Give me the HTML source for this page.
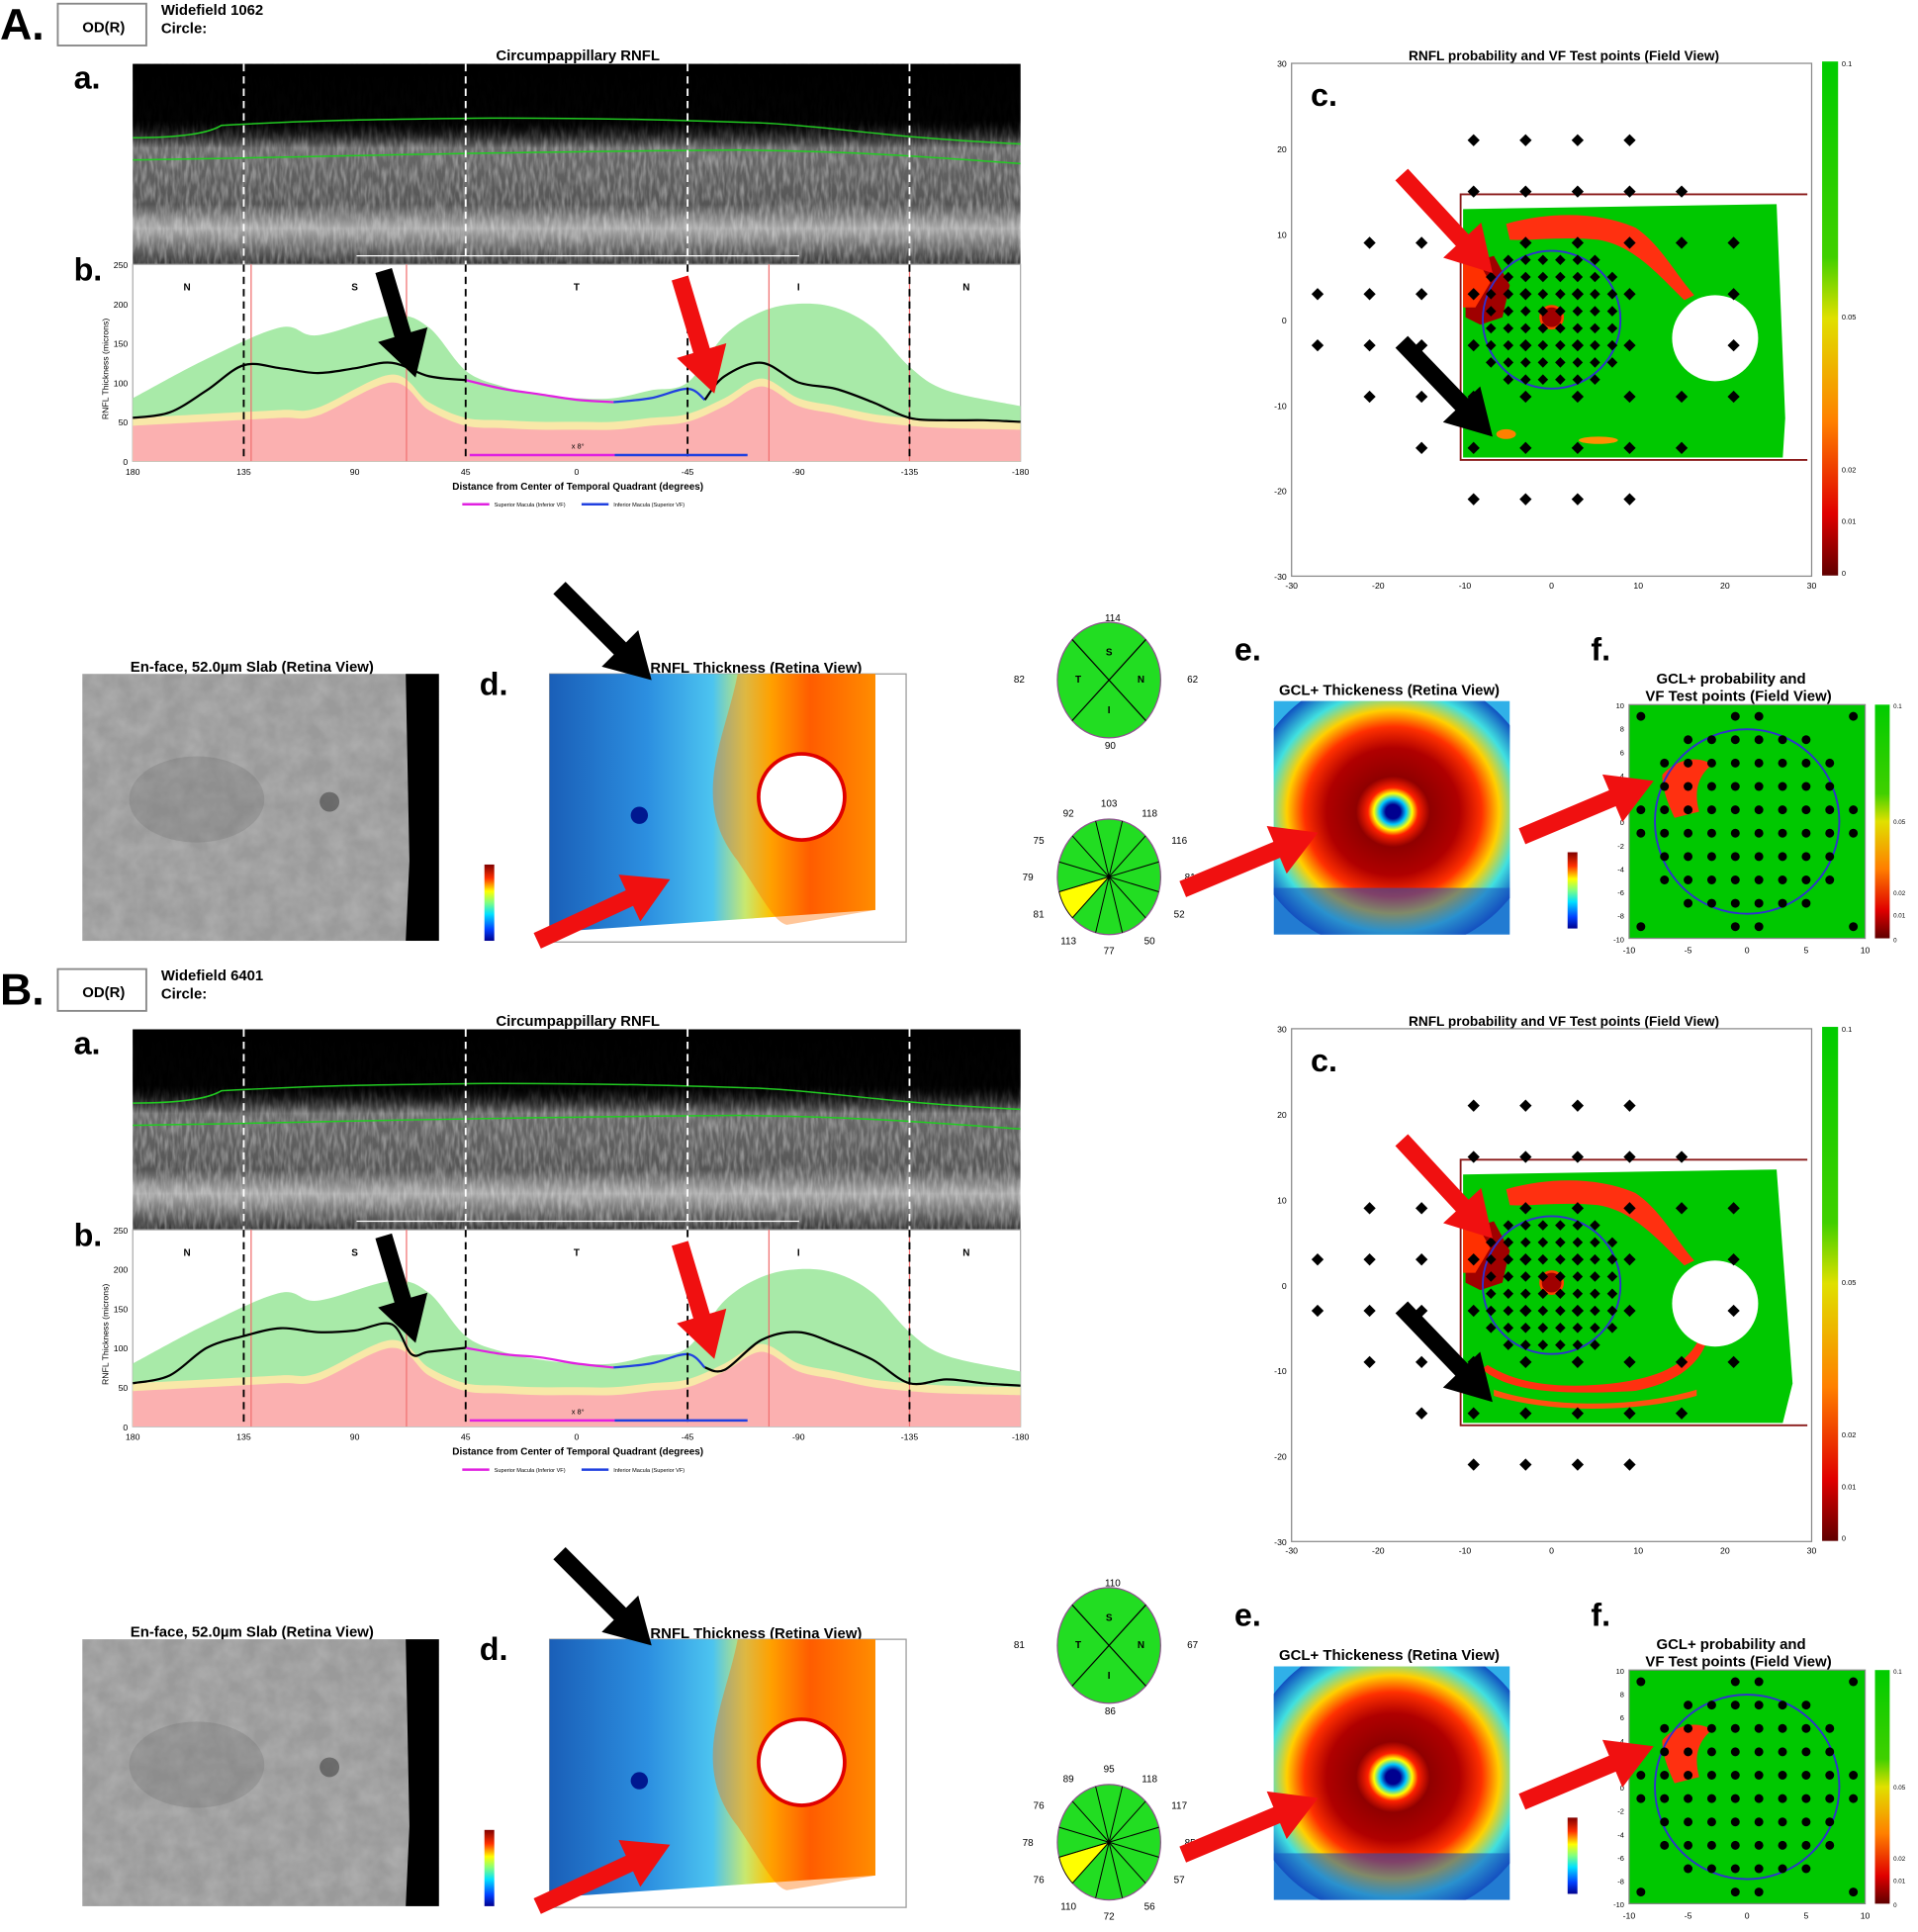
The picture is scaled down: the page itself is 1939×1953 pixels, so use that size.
<!DOCTYPE html>
<html><head><meta charset="utf-8"><style>
html,body{margin:0;padding:0;background:#fff;}
svg{display:block;font-family:"Liberation Sans",sans-serif;}
</style></head><body>
<svg id="fig" width="1939" height="1953" viewBox="0 0 1560 1571" preserveAspectRatio="none" xmlns="http://www.w3.org/2000/svg">
<defs>
<filter id="noise" x="0" y="0" width="100%" height="100%"><feTurbulence type="fractalNoise" baseFrequency="0.35 0.08" numOctaves="2" seed="3"/><feColorMatrix type="matrix" values="0 0 0 0 1 0 0 0 0 1 0 0 0 0 1 0 0 0 1.4 -0.5"/></filter>
<filter id="noise2" x="0" y="0" width="100%" height="100%"><feTurbulence type="fractalNoise" baseFrequency="0.06" numOctaves="3" seed="7"/><feColorMatrix type="matrix" values="0 0 0 0 0.6 0 0 0 0 0.6 0 0 0 0 0.6 0 0 0 1.2 -0.3"/></filter>
<linearGradient id="octg" x1="0" y1="0" x2="0" y2="1"><stop offset="0" stop-color="#000"/><stop offset="0.3" stop-color="#050505"/><stop offset="0.42" stop-color="#6a6a6a"/><stop offset="0.7" stop-color="#555"/><stop offset="0.82" stop-color="#aaa"/><stop offset="1" stop-color="#333"/></linearGradient>
<linearGradient id="octmask" x1="0" y1="0" x2="0" y2="1"><stop offset="0" stop-color="#000" stop-opacity="1"/><stop offset="0.28" stop-color="#000" stop-opacity="0.95"/><stop offset="0.42" stop-color="#000" stop-opacity="0"/><stop offset="1" stop-color="#000" stop-opacity="0"/></linearGradient>
<linearGradient id="jet" x1="0" y1="1" x2="0" y2="0"><stop offset="0" stop-color="#00008f"/><stop offset="0.15" stop-color="#0040ff"/><stop offset="0.35" stop-color="#00e0ff"/><stop offset="0.5" stop-color="#80ff80"/><stop offset="0.65" stop-color="#ffff00"/><stop offset="0.82" stop-color="#ff3000"/><stop offset="1" stop-color="#800000"/></linearGradient>
<linearGradient id="pcb" x1="0" y1="1" x2="0" y2="0"><stop offset="0" stop-color="#600000"/><stop offset="0.12" stop-color="#e00000"/><stop offset="0.3" stop-color="#ff8000"/><stop offset="0.5" stop-color="#e0e000"/><stop offset="0.62" stop-color="#40d000"/><stop offset="1" stop-color="#00cc00"/></linearGradient>
<linearGradient id="rnflg" x1="0" y1="0" x2="1" y2="0"><stop offset="0" stop-color="#1a5fb8"/><stop offset="0.3" stop-color="#2c8fe0"/><stop offset="0.5" stop-color="#4cc4f0"/><stop offset="0.6" stop-color="#c8e870"/><stop offset="0.68" stop-color="#ffc000"/><stop offset="0.8" stop-color="#ff5000"/><stop offset="1" stop-color="#ffa000"/></linearGradient>
<radialGradient id="gclg" cx="0.5" cy="0.5" r="0.5"><stop offset="0.05" stop-color="#000090"/><stop offset="0.09" stop-color="#00c8ff"/><stop offset="0.13" stop-color="#ffff00"/><stop offset="0.17" stop-color="#ff2000"/><stop offset="0.25" stop-color="#900000"/><stop offset="0.45" stop-color="#b00000"/><stop offset="0.6" stop-color="#ff3000"/><stop offset="0.72" stop-color="#ffd000"/><stop offset="0.85" stop-color="#40e0e0"/><stop offset="1" stop-color="#1050c0"/></radialGradient>
<clipPath id="gclclip"><rect x="1036" y="570" width="192" height="190"/></clipPath>
</defs>
</svg>
<script>
// ---- chart data (panel A and B RNFL thickness profiles) ----
const degA = [180,165,150,135,120,105,90,75,60,45,30,15,0,-15,-30,-45,-52,-60,-75,-90,-105,-120,-135,-150,-165,-180];
const valA = [55,62,90,122,118,112,118,125,108,103,92,85,78,75,80,92,78,108,125,100,92,75,55,52,52,50];
const degB = [180,165,150,135,120,105,90,75,67,60,45,30,15,0,-15,-30,-45,-52,-60,-75,-90,-105,-120,-135,-150,-165,-180];
const valB = [55,65,100,115,125,120,122,130,92,95,100,92,88,80,75,80,92,75,72,110,120,105,85,55,60,55,52];
const normDeg = [180,150,120,105,75,60,45,30,15,0,-15,-30,-45,-60,-75,-90,-105,-120,-135,-150,-180];
const normHi = [80,130,170,160,185,170,115,95,85,80,80,90,100,160,190,200,195,170,120,90,70];
const normLo = [45,50,55,58,100,65,45,42,40,40,40,45,50,70,95,70,60,50,45,42,40];
const yTicks = [0,50,100,150,200,250];
const xTicks = [180,135,90,45,0,-45,-90,-135,-180];
const fieldTicks = [-30,-20,-10,0,10,20,30];
const sectorsA = {top:114,left:82,right:62,bottom:90,clock:[103,118,116,81,52,50,77,113,81,79,75,92]};
const sectorsB = {top:110,left:81,right:67,bottom:86,clock:[95,118,117,85,57,56,72,110,76,78,76,89]};

const NS='http://www.w3.org/2000/svg';
const svg=document.getElementById('fig');
function mk(tag,attrs,name,parent,text){
  const el=document.createElementNS(NS,tag);
  for(const k in attrs) el.setAttribute(k,attrs[k]);
  
  
  if(text!==undefined) el.textContent=text;
  (parent||svg).appendChild(el);
  return el;
}
function txt(x,y,s,size,name,g,extra){
  const a=Object.assign({x:x,y:y,'font-size':size,fill:'#000'},extra||{});
  return mk('text',a,name,g,s);
}
function arrow(x1,y1,x2,y2,col,w,g,name){
  const dx=x2-x1,dy=y2-y1,L=Math.hypot(dx,dy),ux=dx/L,uy=dy/L,px=-uy,py=ux;
  const hl=w*2.6,hw=w*1.5;
  const bx=x2-ux*hl,by=y2-uy*hl;
  const pts=[[x1+px*w/2,y1+py*w/2],[bx+px*w/2,by+py*w/2],[bx+px*hw,by+py*hw],[x2,y2],[bx-px*hw,by-py*hw],[bx-px*w/2,by-py*w/2],[x1-px*w/2,y1-py*w/2]];
  mk('polygon',{points:pts.map(p=>p.join(',')).join(' '),fill:col},name,g);
}
function smooth(pts){
  let s='M'+pts[0][0]+','+pts[0][1];
  for(let i=0;i<pts.length-1;i++){
    const p0=pts[Math.max(0,i-1)],p1=pts[i],p2=pts[i+1],p3=pts[Math.min(pts.length-1,i+2)];
    const c1=[p1[0]+(p2[0]-p0[0])/6,p1[1]+(p2[1]-p0[1])/6],c2=[p2[0]-(p3[0]-p1[0])/6,p2[1]-(p3[1]-p1[1])/6];
    s+=' C'+c1.join(',')+' '+c2.join(',')+' '+p2.join(',');
  }
  return s;
}
function panel(dy,letter,wf,deg,val,sec,variant){
  const g=mk('g',{transform:'translate(0,'+dy+')'},'panel-'+letter,svg);
  txt(0,32,letter+'.',36,'panel-label',g,{'font-weight':'bold'});
  mk('rect',{x:47,y:3,width:72,height:34,fill:'#fff',stroke:'#888','stroke-width':1.5},'eye-box',g);
  txt(67,26,'OD(R)',12,'eye-label',g,{'font-weight':'bold'});
  txt(131,12,'Widefield '+wf,12,'scan-id',g,{'font-weight':'bold'});
  txt(131,27,'Circle:',12,'scan-type',g,{'font-weight':'bold'});
  txt(60,72,'a.',26,'sub-label-a',g,{'font-weight':'bold'});
  txt(470,49,'Circumpappillary RNFL',12,'oct-title',g,{'font-weight':'bold','text-anchor':'middle'});
  // OCT b-scan
  mk('rect',{x:108,y:52,width:722,height:163,fill:'url(#octg)'},'oct-bscan',g);
  mk('rect',{x:108,y:52,width:722,height:163,fill:'#000',filter:'url(#noise)',opacity:0.5},'oct-speckle',g);
  mk('rect',{x:108,y:52,width:722,height:163,fill:'url(#octmask)'},'oct-vitreous',g);
  mk('path',{d:'M108,112 C150,112 170,108 180,102 C250,98 300,97 400,96 C500,96 560,98 620,100 C680,103 720,112 830,117',fill:'none',stroke:'#2c2','stroke-width':1.2},'ilm-boundary',g);
  mk('path',{d:'M108,130 C250,128 350,124 600,122 C700,123 760,128 830,133',fill:'none',stroke:'#2c2','stroke-width':1.2},'rnfl-boundary',g);
  mk('line',{x1:290,y1:208,x2:650,y2:208,stroke:'#fff','stroke-width':1},'scan-length-marker',g);
  txt(60,228,'b.',26,'sub-label-b',g,{'font-weight':'bold'});
  // chart b
  const X=d=>108+(180-d)/360*722, Y=v=>375-v*0.64;
  mk('rect',{x:108,y:215,width:722,height:160,fill:'#fff',stroke:'#aaa'},'chart-area',g);
  const hiPts=normDeg.map((d,i)=>[X(d),Y(normHi[i])]);
  mk('path',{d:smooth(hiPts)+' L'+X(-180)+',375 L'+X(180)+',375Z',fill:'#a8eaa8'},'normal-band',g);
  const yePts=normDeg.map((d,i)=>[X(d),Y(normLo[i]+10)]);
  mk('path',{d:smooth(yePts)+' L'+X(-180)+',375 L'+X(180)+',375Z',fill:'#f8e8a8'},'borderline-band',g);
  const pkPts=normDeg.map((d,i)=>[X(d),Y(normLo[i])]);
  mk('path',{d:smooth(pkPts)+' L'+X(-180)+',375 L'+X(180)+',375Z',fill:'#fbb0b0'},'abnormal-band',g);
  [132,69,-78,-135].forEach(d=>mk('line',{x1:X(d),y1:215,x2:X(d),y2:375,stroke:'#f07070','stroke-width':1},'sector-line',g));
  const seg=(filter,col,name)=>{
    const pts=[];deg.forEach((d,i)=>{if(filter(d)) pts.push([X(d),Y(val[i])]);});
    mk('path',{d:smooth(pts),fill:'none',stroke:col,'stroke-width':1.8,'stroke-linejoin':'round'},name,g);
  };
  seg(d=>d>=45,'#000','thickness-line-left');
  seg(d=>d<=45&&d>=-15,'#e020e0','thickness-superior-macula');
  seg(d=>d<=-15&&d>=-52,'#2040e0','thickness-inferior-macula');
  seg(d=>d<=-52,'#000','thickness-line-right');
  [135,45,-45,-135].forEach(d=>mk('line',{x1:X(d),y1:215,x2:X(d),y2:375,stroke:'#000','stroke-width':1.5,'stroke-dasharray':'6,4'},'quadrant-divider',g));
  [135,45,-45,-135].forEach(d=>mk('line',{x1:X(d),y1:52,x2:X(d),y2:215,stroke:'#fff','stroke-width':1.5,'stroke-dasharray':'6,4'},'quadrant-divider-oct',g));
  [['N',180-22],['S',90],['T',0],['I',-90],['N',-158]].forEach(q=>txt(X(q[1]),236,q[0],8,'quadrant-letter',g,{'font-weight':'bold','text-anchor':'middle'}));
  yTicks.forEach(v=>txt(104,Y(v)+3,String(v),7,'y-tick-label',g,{'text-anchor':'end'}));
  xTicks.forEach(d=>txt(X(d),386,String(d),7,'x-tick-label',g,{'text-anchor':'middle'}));
  txt(88,300,'RNFL Thickness (microns)',7,'y-axis-title',g,{'text-anchor':'middle',transform:'rotate(-90 88 300)'});
  txt(470,398,'Distance from Center of Temporal Quadrant (degrees)',8,'x-axis-title',g,{'font-weight':'bold','text-anchor':'middle'});
  mk('line',{x1:382,y1:370,x2:500,y2:370,stroke:'#e020e0','stroke-width':2},'range-marker-magenta',g);
  mk('line',{x1:500,y1:370,x2:608,y2:370,stroke:'#2040e0','stroke-width':2},'range-marker-blue',g);
  txt(470,365,'x 8°',6,'range-label',g,{'text-anchor':'middle'});
  mk('line',{x1:376,y1:410,x2:398,y2:410,stroke:'#e020e0','stroke-width':2},'legend-swatch-sup',g);
  txt(402,412,'Superior Macula (Inferior VF)',4.5,'legend-entry-sup',g);
  mk('line',{x1:473,y1:410,x2:495,y2:410,stroke:'#2040e0','stroke-width':2},'legend-swatch-inf',g);
  txt(499,412,'Inferior Macula (Superior VF)',4.5,'legend-entry-inf',g);
  arrow(312,220,338,307,'#000',14,g,'black-arrow-b');
  arrow(553,226,581,320,'#f01010',14,g,'red-arrow-b');
  // ---- panel c ----
  const FX=v=>1262+v*7.05, FY=v=>260-v*6.95;
  txt(1272,49,'RNFL probability and VF Test points (Field View)',11,'field-title',g,{'font-weight':'bold','text-anchor':'middle'});
  mk('rect',{x:FX(-30),y:FY(30),width:FX(30)-FX(-30),height:FY(-30)-FY(30),fill:'#fff',stroke:'#888'},'field-plot',g);
  fieldTicks.forEach(t=>{txt(FX(-30)-4,FY(t)+3,String(t),7,'field-y-tick',g,{'text-anchor':'end'});txt(FX(t),FY(-30)+10,String(t),7,'field-x-tick',g,{'text-anchor':'middle'});});
  txt(1066,86,'c.',26,'sub-label-c',g,{'font-weight':'bold'});
  mk('polyline',{points:[[1470,158],[1188,158],[1188,374],[1470,374]].map(p=>p.join(',')).join(' '),fill:'none',stroke:'#8a1a1a','stroke-width':1.5},'scan-boundary',g);
  const right=variant?1458:1452;
  mk('polygon',{points:'1190,170 1445,166 '+right+',340 1450,372 1190,372',fill:'#00c800'},'probability-map',g);
  mk('path',{d:'M1225,182 C1260,172 1300,172 1330,185 C1350,198 1362,222 1378,240 L1370,244 C1350,225 1330,200 1300,195 C1270,192 1245,196 1228,195Z',fill:'#ff3010'},'defect-superior-arc',g);
  mk('path',{d:'M1192,215 L1215,208 L1228,232 L1222,258 L1204,264 L1192,258Z',fill:'#a00000'},'defect-temporal',g);
  mk('path',{d:'M1190,212 L1200,208 L1212,230 L1200,250 L1190,250Z',fill:'#ff3000'},'defect-temporal-edge',g);
  if(variant){
    mk('path',{d:'M1205,328 C1225,345 1260,350 1330,346 C1370,338 1385,320 1390,300 L1384,298 C1375,328 1340,338 1300,341 C1260,344 1230,338 1210,325Z',fill:'#ff3010'},'defect-inferior-arc',g);
    mk('path',{d:'M1215,345 C1260,360 1330,360 1380,345 L1380,350 C1330,364 1260,364 1215,350Z',fill:'#ff5010'},'defect-inferior-band',g);
  } else {
    mk('ellipse',{cx:1225,cy:353,rx:8,ry:4,fill:'#ff8000'},'defect-inferior-spot',g);
    mk('ellipse',{cx:1300,cy:358,rx:16,ry:3,fill:'#ff9000'},'defect-inferior-spot2',g);
  }
  mk('circle',{cx:1262,cy:258,r:9,fill:'#a00000',stroke:'#ff4000','stroke-width':2},'fovea-spot',g);
  mk('circle',{cx:1262,cy:260,r:56,fill:'none',stroke:'#3030d0','stroke-width':1.5},'macula-circle',g);
  mk('circle',{cx:1395,cy:275,r:35,fill:'#fff'},'optic-disc',g);
  const rows={21:[-9,-3,3,9],15:[-15,-9,-3,3,9,15],9:[-21,-15,-9,-3,3,9,15,21],3:[-27,-21,-15,-9,-3,3,9,21],'-3':[-27,-21,-15,-9,-3,3,9,21],'-9':[-21,-15,-9,-3,3,9,15,21],'-15':[-15,-9,-3,3,9,15],'-21':[-9,-3,3,9]};
  for(const y in rows) rows[y].forEach(x=>{if(!(x===15&&Math.abs(+y)===3)) mk('rect',{x:FX(x)-3.5,y:FY(+y)-3.5,width:7,height:7,transform:'rotate(45 '+FX(x)+' '+FY(+y)+')',fill:'#000'},'vf-test-point',g);});
  for(let yy=-9;yy<=9;yy+=2) for(let xx=-9;xx<=9;xx+=2){ if(xx*xx+yy*yy<=81) mk('rect',{x:FX(xx)-3,y:FY(yy)-3,width:6,height:6,transform:'rotate(45 '+FX(xx)+' '+FY(yy)+')',fill:'#000'},'vf-10-2-point',g);}
  mk('rect',{x:1482,y:50,width:13,height:418,fill:'url(#pcb)'},'probability-colorbar',g);
  [['0.1',54],['0.05',260],['0.02',384],['0.01',426],['0',468]].forEach(t=>txt(1498,t[1],t[0],6,'colorbar-tick',g));
  arrow(1140,142,1214,222,'#f01010',14,g,'red-arrow-c');
  arrow(1140,278,1214,355,'#000',14,g,'black-arrow-c');
  // ---- enface ----
  txt(205,546,'En-face, 52.0µm Slab (Retina View)',12,'enface-title',g,{'font-weight':'bold','text-anchor':'middle'});
  mk('rect',{x:67,y:548,width:290,height:217,fill:'#9a9a9a'},'enface-image',g);
  mk('rect',{x:67,y:548,width:290,height:217,fill:'#000',filter:'url(#noise2)',opacity:0.5},'enface-texture',g);
  mk('polygon',{points:'330,548 357,548 357,765 330,765 333,700',fill:'#000'},'enface-edge',g);
  mk('ellipse',{cx:160,cy:650,rx:55,ry:35,fill:'#666',opacity:0.25},'enface-macula',g);
  mk('circle',{cx:268,cy:652,r:8,fill:'#333',opacity:0.5},'enface-disc',g);
  // ---- d ----
  txt(390,565,'d.',26,'sub-label-d',g,{'font-weight':'bold'});
  txt(615,547,'RNFL Thickness (Retina View)',12,'rnfl-map-title',g,{'font-weight':'bold','text-anchor':'middle'});
  mk('rect',{x:447,y:548,width:290,height:218,fill:'#fff',stroke:'#999'},'rnfl-map-frame',g);
  mk('polygon',{points:'447,548 712,548 712,740 447,758',fill:'url(#rnflg)'},'rnfl-thickness-map',g);
  mk('path',{d:'M600,548 C590,600 560,650 600,700 C620,730 630,750 640,752 L712,740 L712,548Z',fill:'#ff7000',opacity:0.4},'rnfl-bundles',g);
  mk('ellipse',{cx:520,cy:663,rx:7,ry:7,fill:'#001890'},'rnfl-fovea',g);
  mk('circle',{cx:652,cy:648,r:35,fill:'#fff',stroke:'#e00000','stroke-width':3},'rnfl-disc',g);
  mk('rect',{x:394,y:703,width:8,height:62,fill:'url(#jet)'},'rnfl-colorbar',g);
  arrow(455,478,530,553,'#000',14,g,'black-arrow-d');
  arrow(437,765,545,715,'#f01010',14,g,'red-arrow-d');
  // ---- sector circles ----
  mk('ellipse',{cx:902,cy:553,rx:42,ry:47,fill:'#22dd22',stroke:'#905090'},'quadrant-circle',g);
  mk('line',{x1:872,y1:520,x2:932,y2:586,stroke:'#000'},'quadrant-line',g);
  mk('line',{x1:932,y1:520,x2:872,y2:586,stroke:'#000'},'quadrant-line',g);
  [['S',902,533],['T',877,555],['N',928,555],['I',902,580]].forEach(s=>txt(s[1],s[2],s[0],8,'quadrant-letter',g,{'font-weight':'bold','text-anchor':'middle'}));
  txt(905,505,String(sec.top),8,'quadrant-value',g,{'text-anchor':'middle'});
  txt(829,555,String(sec.left),8,'quadrant-value',g,{'text-anchor':'middle'});
  txt(970,555,String(sec.right),8,'quadrant-value',g,{'text-anchor':'middle'});
  txt(903,609,String(sec.bottom),8,'quadrant-value',g,{'text-anchor':'middle'});
  const cx=902,cy=713,rx=42,ry=47;
  mk('ellipse',{cx:cx,cy:cy,rx:rx,ry:ry,fill:'#22dd22',stroke:'#905090'},'clock-circle',g);
  const a1=(195)*Math.PI/180,a2=(225)*Math.PI/180;
  mk('path',{d:'M'+cx+','+cy+' L'+(cx+rx*Math.cos(a1))+','+(cy-ry*Math.sin(a1))+' A'+rx+','+ry+' 0 0 0 '+(cx+rx*Math.cos(a2))+','+(cy-ry*Math.sin(a2))+'Z',fill:'#ffff00',stroke:'#000','stroke-width':0.6},'clock-sector-borderline',g);
  for(let k=0;k<12;k++){const a=(15+30*k)*Math.PI/180;mk('line',{x1:cx,y1:cy,x2:cx+rx*Math.cos(a),y2:cy-ry*Math.sin(a),stroke:'#000','stroke-width':0.8},'clock-spoke',g);}
  sec.clock.forEach((v,k)=>{const a=(90-30*k)*Math.PI/180;txt(cx+66*Math.cos(a),cy-60*Math.sin(a)+3,String(v),8,'clock-value',g,{'text-anchor':'middle'});});
  // ---- e ----
  txt(1004,537,'e.',26,'sub-label-e',g,{'font-weight':'bold'});
  txt(1130,565,'GCL+ Thickeness (Retina View)',12,'gcl-title',g,{'font-weight':'bold','text-anchor':'middle'});
  const ge=mk('g',{'clip-path':'url(#gclclip)'},'gcl-map-group',g);
  mk('rect',{x:1036,y:570,width:192,height:190,fill:'#30b0e8'},'gcl-map-bg',ge);
  mk('ellipse',{cx:1133,cy:660,rx:120,ry:115,fill:'url(#gclg)'},'gcl-map',ge);
  mk('rect',{x:1036,y:722,width:192,height:38,fill:'#1850c0',opacity:0.55},'gcl-inferior',ge);
  mk('rect',{x:1275,y:693,width:8,height:62,fill:'url(#jet)'},'gcl-colorbar',g);
  arrow(962,723,1072,677,'#f01010',14,g,'red-arrow-e');
  // ---- f ----
  txt(1294,537,'f.',26,'sub-label-f',g,{'font-weight':'bold'});
  txt(1408,556,'GCL+ probability and',12,'gcl-prob-title',g,{'font-weight':'bold','text-anchor':'middle'});
  txt(1414,570,'VF Test points (Field View)',12,'gcl-prob-title2',g,{'font-weight':'bold','text-anchor':'middle'});
  const GX=v=>1421+v*9.6, GY=v=>668-v*9.5;
  mk('rect',{x:1325,y:573,width:192,height:190,fill:'#00c800',stroke:'#888'},'gcl-prob-map',g);
  mk('path',{d:'M1352,630 C1365,615 1385,615 1392,622 C1380,632 1378,645 1382,660 L1362,665 C1355,650 1352,640 1352,630Z',fill:'#ff3010'},'gcl-defect',g);
  mk('circle',{cx:GX(0),cy:GY(0),r:75,fill:'none',stroke:'#3030d0','stroke-width':1.5},'gcl-circle',g);
  for(let yy=-9;yy<=9;yy+=2) for(let xx=-9;xx<=9;xx+=2){ const r2=xx*xx+yy*yy; if(r2<=82||(Math.abs(xx)===9&&Math.abs(yy)===9)) mk('circle',{cx:GX(xx),cy:GY(yy),r:3.6,fill:'#000'},'gcl-vf-point',g);}
  [-10,-5,0,5,10].forEach(t=>txt(GX(t),775,String(t),7,'gcl-x-tick',g,{'text-anchor':'middle'}));
  [10,8,6,4,2,0,-2,-4,-6,-8,-10].forEach(t=>txt(1321,GY(t)+3,String(t),6,'gcl-y-tick',g,{'text-anchor':'end'}));
  mk('rect',{x:1525,y:573,width:12,height:190,fill:'url(#pcb)'},'gcl-prob-colorbar',g);
  [['0.1',576],['0.05',670],['0.02',728],['0.01',746],['0',766]].forEach(t=>txt(1540,t[1],t[0],5,'colorbar-tick',g));
  arrow(1238,680,1345,635,'#f01010',14,g,'red-arrow-f');
}
panel(0,'A','1062',degA,valA,sectorsA,false);
panel(785,'B','6401',degB,valB,sectorsB,true);
</script>
</body></html>
